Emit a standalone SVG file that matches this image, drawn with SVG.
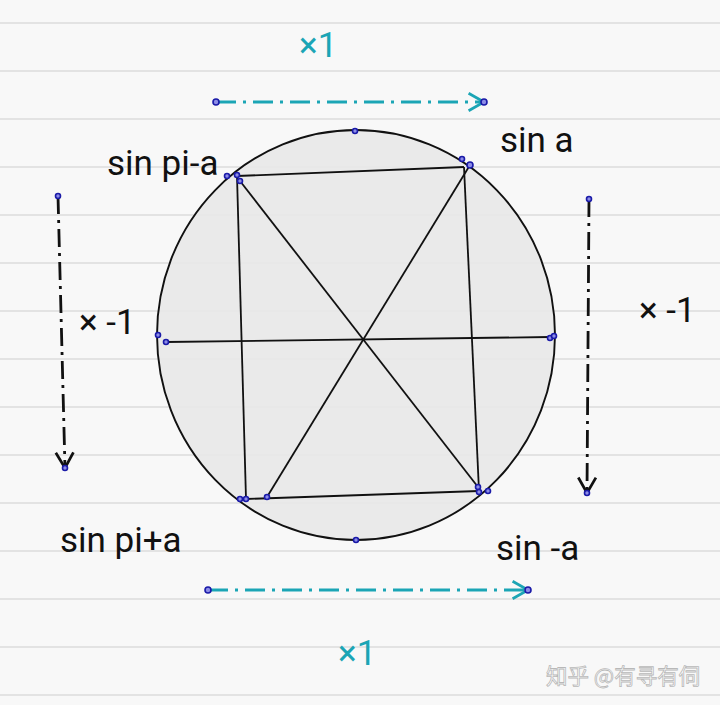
<svg xmlns="http://www.w3.org/2000/svg" width="720" height="705" viewBox="0 0 720 705">
<style>
.rule{stroke:#dcdcdc;stroke-width:1.5}
.edge{stroke:#111;stroke-width:1.8;fill:none}
.pt{fill:#8c8ce6;stroke:#1a1aa8;stroke-width:1.6}
.lbl{font-family:Roboto,"Liberation Sans",sans-serif;font-size:35px;fill:#111}
.cy{font-family:Roboto,"Liberation Sans",sans-serif;font-size:35px;fill:#1ba5b5}
.cyarrow{stroke:#1ba5b5;stroke-width:3.2;fill:none;stroke-dasharray:20 7 3 7}
.bkarrow{stroke:#111;stroke-width:2.8;fill:none;stroke-dasharray:18 6 3 6}
</style>
<defs>
<marker id="cyhead" viewBox="0 0 20 20" refX="17" refY="10" markerWidth="22" markerHeight="22" markerUnits="userSpaceOnUse" orient="auto">
<path d="M3,2 L17,10 L3,18" fill="none" stroke="#1ba5b5" stroke-width="2.5"/>
</marker>
<marker id="bkhead" viewBox="0 0 20 20" refX="17" refY="10" markerWidth="22" markerHeight="22" markerUnits="userSpaceOnUse" orient="auto">
<path d="M3,2 L17,10 L3,18" fill="none" stroke="#111" stroke-width="2.5"/>
</marker>
</defs>
<rect width="720" height="705" fill="#f8f8f8"/>
<g id="rules">
<line class="rule" x1="0" y1="23" x2="720" y2="23"/>
<line class="rule" x1="0" y1="71" x2="720" y2="71"/>
<line class="rule" x1="0" y1="119" x2="720" y2="119"/>
<line class="rule" x1="0" y1="167" x2="720" y2="167"/>
<line class="rule" x1="0" y1="215" x2="720" y2="215"/>
<line class="rule" x1="0" y1="263" x2="720" y2="263"/>
<line class="rule" x1="0" y1="311" x2="720" y2="311"/>
<line class="rule" x1="0" y1="359" x2="720" y2="359"/>
<line class="rule" x1="0" y1="407" x2="720" y2="407"/>
<line class="rule" x1="0" y1="455" x2="720" y2="455"/>
<line class="rule" x1="0" y1="503" x2="720" y2="503"/>
<line class="rule" x1="0" y1="551" x2="720" y2="551"/>
<line class="rule" x1="0" y1="599" x2="720" y2="599"/>
<line class="rule" x1="0" y1="647" x2="720" y2="647"/>
<line class="rule" x1="0" y1="695" x2="720" y2="695"/>
</g>
<g id="circle">
<ellipse cx="356" cy="335" rx="199" ry="205" fill="#e8e8e8" fill-opacity="0.9" stroke="#111" stroke-width="1.9"/>
</g>
<g id="connectors">
<line class="edge" x1="237" y1="176" x2="464" y2="167"/>
<line class="edge" x1="237" y1="176" x2="246" y2="499"/>
<line class="edge" x1="464" y1="167" x2="479" y2="491"/>
<line class="edge" x1="246" y1="499" x2="479" y2="491"/>
<line class="edge" x1="240" y1="181" x2="478" y2="487"/>
<line class="edge" x1="470" y1="165" x2="267" y2="497"/>
<line class="edge" x1="166" y1="342" x2="550" y2="337"/>
<line class="cyarrow" x1="216" y1="102" x2="484" y2="102" marker-end="url(#cyhead)"/>
<line class="cyarrow" x1="208" y1="590" x2="528" y2="590" marker-end="url(#cyhead)"/>
<line class="bkarrow" x1="58" y1="196" x2="65" y2="468" marker-end="url(#bkhead)"/>
<line class="bkarrow" x1="589" y1="199" x2="587" y2="493" marker-end="url(#bkhead)"/>
</g>
<g id="points">
<circle class="pt" cx="216" cy="102" r="3"/>
<circle class="pt" cx="484" cy="102" r="3"/>
<circle class="pt" cx="208" cy="590" r="3"/>
<circle class="pt" cx="528" cy="590" r="3"/>
<circle class="pt" cx="58" cy="196" r="2.5"/>
<circle class="pt" cx="65" cy="468" r="2.5"/>
<circle class="pt" cx="589" cy="199" r="2.5"/>
<circle class="pt" cx="587" cy="493" r="2.5"/>
<circle class="pt" cx="355" cy="131" r="2.5"/>
<circle class="pt" cx="356" cy="540" r="2.5"/>
<circle class="pt" cx="158" cy="335" r="2.5"/>
<circle class="pt" cx="166" cy="342" r="2.5"/>
<circle class="pt" cx="550" cy="338" r="2.5"/>
<circle class="pt" cx="554" cy="336" r="2.5"/>
<circle class="pt" cx="227" cy="176" r="2.5"/>
<circle class="pt" cx="237" cy="175" r="2.5"/>
<circle class="pt" cx="240" cy="181" r="2.5"/>
<circle class="pt" cx="462" cy="159" r="2.5"/>
<circle class="pt" cx="470" cy="165" r="3"/>
<circle class="pt" cx="240" cy="499" r="2.5"/>
<circle class="pt" cx="246" cy="499" r="2.5"/>
<circle class="pt" cx="267" cy="497" r="2.5"/>
<circle class="pt" cx="478" cy="487" r="2.5"/>
<circle class="pt" cx="479" cy="492" r="2.5"/>
<circle class="pt" cx="488" cy="491" r="2.5"/>
</g>
<g id="labels">
<text class="cy" x="299" y="57">×1</text>
<text class="cy" x="338" y="665">×1</text>
<text class="lbl" x="500" y="152">sin a</text>
<text class="lbl" x="107" y="175">sin pi-a</text>
<text class="lbl" x="79" y="334">× -1</text>
<text class="lbl" x="639" y="322">× -1</text>
<text class="lbl" x="60" y="552">sin pi+a</text>
<text class="lbl" x="496" y="560">sin -a</text>
</g>
<g id="watermark">
<text x="546" y="684" font-family="'Noto Sans CJK SC',sans-serif" font-size="21.5" fill="#ffffff" stroke="#b8b8b8" stroke-width="0.8">知乎 @有寻有伺</text>
</g>
</svg>
